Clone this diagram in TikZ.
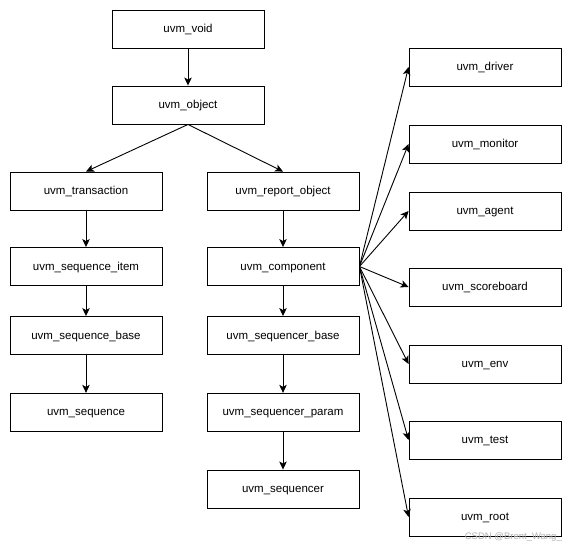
\documentclass[tikz,border=0pt]{standalone}
\usepackage{fontspec}
\setmainfont{Liberation Sans}
\usetikzlibrary{arrows.meta}
\begin{document}
\begin{tikzpicture}[x=1pt,y=-1pt,
  box/.style={draw=black, line width=0.9pt, minimum width=152pt, minimum height=38pt, inner sep=0pt, text height=8.5pt, text depth=1.5pt, font=\fontsize{11.5}{13}\selectfont},
  arr/.style={draw=black, line width=0.9pt, -{Stealth[length=8pt,width=7.5pt,inset=2pt]}}]
\useasboundingbox[fill=white] (0,0) rectangle (572,548);
\node[box] (void) at (188,29) {uvm\_void};
\node[box] (object) at (188,105) {uvm\_object};
\node[box] (trans) at (86,191) {uvm\_transaction};
\node[box] (report) at (283,191) {uvm\_report\_object};
\node[box] (seqitem) at (86,266.5) {uvm\_sequence\_item};
\node[box] (comp) at (283,266.5) {uvm\_component};
\node[box] (seqbase) at (86,335.5) {uvm\_sequence\_base};
\node[box] (seqrbase) at (283,335.5) {uvm\_sequencer\_base};
\node[box] (seq) at (86,412.3) {uvm\_sequence};
\node[box] (seqrparam) at (283,412.3) {uvm\_sequencer\_param};
\node[box] (seqr) at (283,489) {uvm\_sequencer};
\node[box] (driver) at (485,67) {uvm\_driver};
\node[box] (monitor) at (485,144) {uvm\_monitor};
\node[box] (agent) at (485,211) {uvm\_agent};
\node[box] (scoreboard) at (485,287) {uvm\_scoreboard};
\node[box] (env) at (485,364) {uvm\_env};
\node[box] (test) at (485,440) {uvm\_test};
\node[box] (root) at (485,517) {uvm\_root};
\node[text=black!30, font=\fontsize{9.5}{10}\selectfont, anchor=east, inner sep=0pt] (wm) at (562,537) {CSDN @Brent\_Wang\_};
\draw[arr] (void) -- (object);
\draw[arr] (object.south) -- (trans.north);
\draw[arr] (object.south) -- (report.north);
\draw[arr] (trans) -- (seqitem);
\draw[arr] (seqitem) -- (seqbase);
\draw[arr] (seqbase) -- (seq);
\draw[arr] (report) -- (comp);
\draw[arr] (comp) -- (seqrbase);
\draw[arr] (seqrbase) -- (seqrparam);
\draw[arr] (seqrparam) -- (seqr);
\foreach \t in {driver,monitor,agent,scoreboard,env,test,root}
  \draw[arr] (comp.east) -- (\t.west);
\end{tikzpicture}
\end{document}
